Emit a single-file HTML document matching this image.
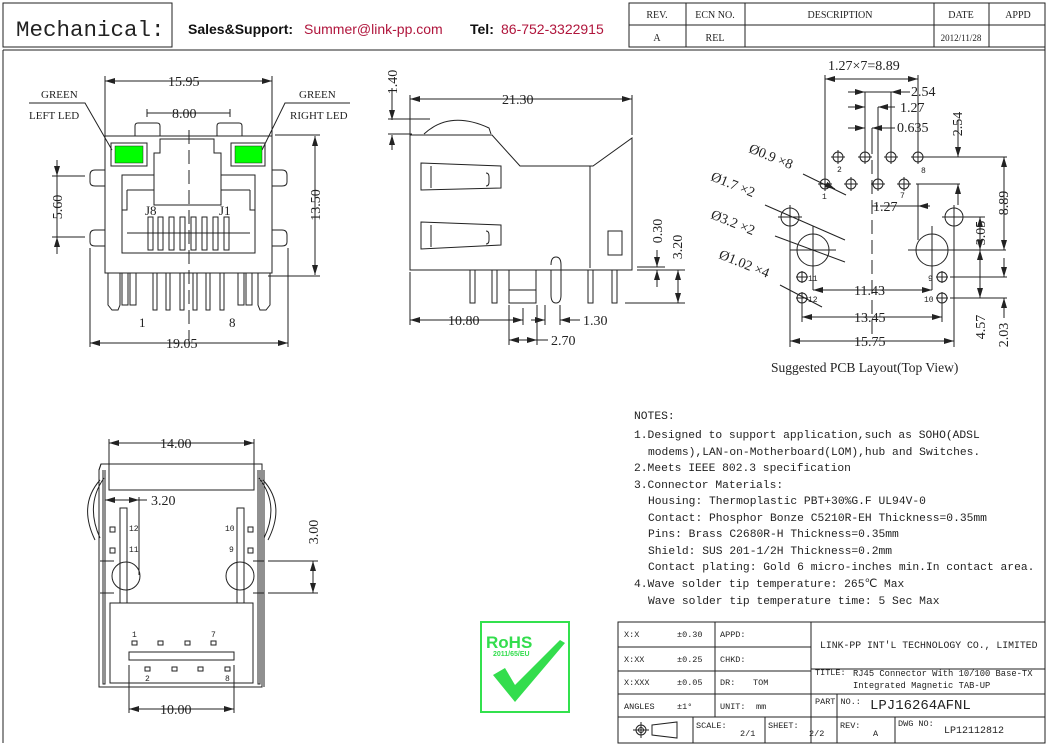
<!DOCTYPE html>
<html><head><meta charset="utf-8"><style>
html,body{margin:0;padding:0;background:#fff}
svg{display:block}
text{font-family:"Liberation Mono","DejaVu Sans Mono",monospace;fill:#222}
.s{font-family:"Liberation Serif",serif}
</style></head><body>
<svg width="1048" height="745" viewBox="0 0 1048 745" xmlns="http://www.w3.org/2000/svg">
<defs>
<marker id="a" viewBox="0 0 10 6" refX="10" refY="3" markerWidth="10" markerHeight="6" orient="auto-start-reverse" markerUnits="userSpaceOnUse"><path d="M0,0L10,3L0,6z" fill="#222"/></marker>
</defs>
<g fill="none" stroke="#222" stroke-width="1">
<line x1="3" y1="50" x2="3" y2="743"/>
<line x1="3" y1="50" x2="1045" y2="50"/>
<line x1="1045" y1="3" x2="1045" y2="743"/>
<rect x="3" y="3" width="169" height="44"/>
<rect x="629" y="3" width="416" height="44"/>
<line x1="629" y1="25" x2="1045" y2="25"/>
<line x1="686" y1="3" x2="686" y2="47"/><line x1="745" y1="3" x2="745" y2="47"/>
<line x1="934" y1="3" x2="934" y2="47"/><line x1="989" y1="3" x2="989" y2="47"/>

<line x1="105" y1="81" x2="272" y2="81" marker-start="url(#a)" marker-end="url(#a)"/>
<line x1="105" y1="76" x2="105" y2="136"/><line x1="272" y1="76" x2="272" y2="136"/>
<line x1="147" y1="113" x2="230" y2="113"/>
<line x1="147" y1="109" x2="147" y2="117"/><line x1="230" y1="109" x2="230" y2="117"/>
<polyline points="29,103 85,103 112,150"/>
<polyline points="350,103 285,103 262,150"/>
<rect x="105" y="136" width="167" height="137"/>
<path d="M135,136V126q0,-3 3,-3h19q3,0 3,3V136M217,136V126q0,-3 3,-3h19q3,0 3,3V136"/>
<rect x="111" y="143" width="36" height="23"/><rect x="231" y="143" width="34" height="23"/>
<path d="M160,139H214V153H221V175H255V253H122V175H154V153H160Z"/>
<path d="M154,175V205H221V175M127,190V210H122M250,190V210H255M127,233H250"/>
<path d="M127,190H154M221,190H250"/>
<g>
<rect x="148" y="217" width="5" height="33"/><rect x="158" y="217" width="5" height="33"/><rect x="169" y="217" width="5" height="33"/><rect x="180" y="217" width="5" height="33"/><rect x="191" y="217" width="5" height="33"/><rect x="202" y="217" width="5" height="33"/><rect x="213" y="217" width="5" height="33"/><rect x="224" y="217" width="5" height="33"/>
</g>
<path d="M105,170H95q-5,0 -5,5v7q0,4 5,4H105M105,230H95q-5,0 -5,5v7q0,4 5,4H105M272,170H282q5,0 5,5v7q0,4 -5,4H272M272,230H282q5,0 5,5v7q0,4 -5,4H272"/>
<path d="M108,273V305l4,5h6l2,-5V273M122,273V305h6V273M153,273V310h4V273M166,273V310h4V273M180,273V310h4V273M193,273V310h4V273M206,273V310h4V273M220,273V310h4V273M246,273V305h6V273M258,273V305l2,5h6l4,-5V273M130,273V305h6V273M238,273V305h6V273"/>
<line x1="189" y1="130" x2="189" y2="340" stroke-dasharray="14,6"/>
<line x1="57" y1="160" x2="57" y2="254"/>
<line x1="57" y1="160" x2="57" y2="176" marker-end="url(#a)"/><line x1="57" y1="254" x2="57" y2="237" marker-end="url(#a)"/>
<line x1="52" y1="176" x2="85" y2="176"/><line x1="52" y1="237" x2="85" y2="237"/>
<line x1="315" y1="136" x2="315" y2="275" marker-start="url(#a)" marker-end="url(#a)"/>
<line x1="275" y1="135" x2="320" y2="135"/><line x1="268" y1="276" x2="320" y2="276"/>
<line x1="90" y1="343" x2="288" y2="343" marker-start="url(#a)" marker-end="url(#a)"/>
<line x1="90" y1="248" x2="90" y2="347"/><line x1="288" y1="248" x2="288" y2="347"/>

<line x1="410" y1="99" x2="632" y2="99" marker-start="url(#a)" marker-end="url(#a)"/>
<line x1="410" y1="95" x2="410" y2="135"/><line x1="632" y1="95" x2="632" y2="135"/>
<path d="M410,135H492L520,166H593L632,138V270H410Z"/>
<line x1="590" y1="166" x2="590" y2="268"/>
<path d="M424,134Q450,110 489,128L491,134"/>
<path d="M421,163L501,166V188L421,190ZM431,166V188M486,173q3,0 3,4v5q0,4 -3,4"/>
<path d="M421,222L501,225V245L421,249ZM431,225V247M486,231q3,0 3,4v5q0,4 -3,4"/>
<rect x="608" y="231" width="14" height="24"/>
<path d="M470,270V303h5V270M492,270V303h5V270M588,270V303h5V270M612,270V303h5V270M509,270V303h27V270M509,290H536M551,270V295q0,8 5,8q5,0 5,-8V265q0,-8 -5,-8q-5,0 -5,8"/>
<line x1="392" y1="88" x2="392" y2="116" /><line x1="392" y1="116" x2="392" y2="120" marker-end="url(#a)"/>
<line x1="392" y1="150" x2="392" y2="135" marker-end="url(#a)"/>
<line x1="388" y1="119" x2="430" y2="119"/><line x1="388" y1="134" x2="412" y2="134"/>
<line x1="410" y1="272" x2="410" y2="325"/>
<line x1="410" y1="320" x2="523" y2="320" marker-start="url(#a)" marker-end="url(#a)"/>
<line x1="523" y1="308" x2="523" y2="325"/>
<line x1="531" y1="320" x2="545" y2="320" marker-end="url(#a)"/>
<line x1="580" y1="320" x2="560" y2="320" marker-end="url(#a)"/>
<line x1="545" y1="305" x2="545" y2="325"/><line x1="560" y1="305" x2="560" y2="325"/>
<line x1="509" y1="305" x2="509" y2="345"/><line x1="537" y1="305" x2="537" y2="345"/>
<line x1="509" y1="340" x2="537" y2="340" marker-start="url(#a)" marker-end="url(#a)"/>
<line x1="537" y1="340" x2="548" y2="340"/>
<line x1="637" y1="267" x2="665" y2="267"/><line x1="637" y1="270" x2="685" y2="270"/>
<line x1="625" y1="303" x2="685" y2="303"/>
<line x1="657" y1="250" x2="657" y2="267" marker-end="url(#a)"/><line x1="657" y1="287" x2="657" y2="270" marker-end="url(#a)"/>
<line x1="678" y1="270" x2="678" y2="303" marker-start="url(#a)" marker-end="url(#a)"/>

<line x1="825" y1="79" x2="918" y2="79" marker-start="url(#a)" marker-end="url(#a)"/>
<line x1="825" y1="75" x2="825" y2="180"/><line x1="918" y1="75" x2="918" y2="153"/>
<line x1="848" y1="92" x2="865" y2="92" marker-end="url(#a)"/><line x1="910" y1="92" x2="891" y2="92" marker-end="url(#a)"/>
<line x1="865" y1="92" x2="891" y2="92"/>
<line x1="865" y1="92" x2="865" y2="153"/><line x1="891" y1="92" x2="891" y2="153"/>
<line x1="848" y1="107" x2="865" y2="107" marker-end="url(#a)"/><line x1="895" y1="107" x2="878" y2="107" marker-end="url(#a)"/>
<line x1="878" y1="107" x2="878" y2="180"/>
<line x1="848" y1="128" x2="865" y2="128" marker-end="url(#a)"/><line x1="895" y1="128" x2="872" y2="128" marker-end="url(#a)"/>
<line x1="872" y1="128" x2="872" y2="140"/>
<line x1="872" y1="140" x2="872" y2="340" stroke-dasharray="14,6"/>
<g>
<circle cx="838" cy="157" r="5"/><circle cx="865" cy="157" r="5"/><circle cx="891" cy="157" r="5"/><circle cx="918" cy="157" r="5"/>
<circle cx="825" cy="184" r="5"/><circle cx="851" cy="184" r="5"/><circle cx="878" cy="184" r="5"/><circle cx="904" cy="184" r="5"/>
<path d="M831,157h14M838,150v14M858,157h14M865,150v14M884,157h14M891,150v14M911,157h14M918,150v14M818,184h14M825,177v14M844,184h14M851,177v14M871,184h14M878,177v14M897,184h14M904,177v14"/>
<circle cx="790" cy="217" r="9"/><circle cx="954" cy="217" r="9"/>
<path d="M778,217h24M790,205v24M942,217h24M954,205v24"/>
<circle cx="813" cy="250" r="16"/><circle cx="932" cy="250" r="16"/>
<path d="M790,250h46M813,226v64M908,250h98M932,226v64"/>
<circle cx="802" cy="277" r="5"/><circle cx="802" cy="298" r="5"/><circle cx="942" cy="277" r="5"/><circle cx="942" cy="298" r="5"/>
<path d="M796,277h12M802,271v12M796,298h12M802,292v12M936,277h12M942,271v12M936,298h12M942,292v12"/>
</g>
<line x1="790" y1="226" x2="790" y2="347"/><line x1="954" y1="226" x2="954" y2="347"/>
<line x1="802" y1="304" x2="802" y2="322"/><line x1="942" y1="304" x2="942" y2="322"/>
<line x1="813" y1="290" x2="932" y2="290" marker-start="url(#a)" marker-end="url(#a)"/>
<line x1="802" y1="317" x2="942" y2="317" marker-start="url(#a)" marker-end="url(#a)"/>
<line x1="790" y1="341" x2="954" y2="341" marker-start="url(#a)" marker-end="url(#a)"/>
<line x1="922" y1="157" x2="1007" y2="157"/><line x1="916" y1="184" x2="960" y2="184"/>
<line x1="950" y1="277" x2="1007" y2="277"/><line x1="950" y1="298" x2="1007" y2="298"/>
<line x1="1004" y1="157" x2="1004" y2="250" marker-start="url(#a)" marker-end="url(#a)"/>
<line x1="958" y1="120" x2="958" y2="157" marker-end="url(#a)"/>
<line x1="958" y1="205" x2="958" y2="184" marker-end="url(#a)"/>
<line x1="980" y1="217" x2="980" y2="250" marker-start="url(#a)" marker-end="url(#a)"/>
<line x1="980" y1="250" x2="980" y2="298" marker-start="url(#a)" marker-end="url(#a)"/>
<line x1="1004" y1="258" x2="1004" y2="277" marker-end="url(#a)"/><line x1="1004" y1="318" x2="1004" y2="298" marker-end="url(#a)"/>
<line x1="960" y1="217" x2="985" y2="217"/>
<line x1="872" y1="206" x2="878" y2="206"/>
<line x1="880" y1="206" x2="918" y2="206" /><line x1="930" y1="206" x2="918" y2="206" marker-end="url(#a)"/>
<line x1="918" y1="184" x2="918" y2="240"/>
<line x1="803" y1="174" x2="846" y2="195" /><line x1="835" y1="189" x2="825" y2="184" marker-start="url(#a)"/>
<line x1="765" y1="205" x2="845" y2="240"/>
<line x1="775" y1="236" x2="845" y2="262"/>
<line x1="780" y1="285" x2="822" y2="307"/>

<line x1="109" y1="443" x2="254" y2="443" marker-start="url(#a)" marker-end="url(#a)"/>
<line x1="109" y1="439" x2="109" y2="490"/><line x1="254" y1="439" x2="254" y2="490"/>
<path d="M101,464H262V687H99V470Z"/>
<path d="M101,464L99,470M264,470V687"/>
<rect x="109" y="464" width="145" height="26"/>
<path d="M100,480Q78,505 95,540M104,478Q85,505 100,538M263,480Q286,505 268,540M259,478Q280,505 264,538"/>
<path d="M103,470V684h2V470M258,470V684h2V470"/>
<rect x="120" y="508" width="7" height="95"/><rect x="237" y="508" width="7" height="95"/>
<circle cx="126" cy="576" r="14"/><circle cx="240" cy="576" r="14"/>
<path d="M100,561H114M100,593H114M253,561H264M253,593H264"/>
<rect x="110" y="603" width="143" height="80"/>
<rect x="129" y="652" width="105" height="8"/>
<g>
<rect x="110" y="527" width="5" height="5"/><rect x="110" y="548" width="5" height="5"/>
<rect x="248" y="527" width="5" height="5"/><rect x="248" y="548" width="5" height="5"/>
<rect x="132" y="641" width="5" height="4"/><rect x="158" y="641" width="5" height="4"/><rect x="185" y="641" width="5" height="4"/><rect x="211" y="641" width="5" height="4"/>
<rect x="145" y="667" width="5" height="4"/><rect x="172" y="667" width="5" height="4"/><rect x="198" y="667" width="5" height="4"/><rect x="225" y="667" width="5" height="4"/>
</g>
<line x1="105" y1="500" x2="139" y2="500" marker-start="url(#a)" marker-end="url(#a)"/>
<line x1="139" y1="500" x2="147" y2="500"/>
<line x1="139" y1="497" x2="139" y2="575"/>
<line x1="129" y1="665" x2="129" y2="713"/><line x1="234" y1="665" x2="234" y2="713"/>
<line x1="129" y1="709" x2="234" y2="709" marker-start="url(#a)" marker-end="url(#a)"/>
<line x1="268" y1="561" x2="318" y2="561"/><line x1="268" y1="593" x2="318" y2="593"/>
<line x1="313" y1="561" x2="313" y2="593" marker-start="url(#a)" marker-end="url(#a)"/>

<rect x="618" y="622" width="427" height="121"/>
<path d="M618,647H811M618,671H811M618,694H1045M618,717H1045M811,669H1045"/>
<path d="M715,622V717M811,622V743M693,717V743M765,717V743M837,694V743M895,717V743"/>
<circle cx="641" cy="730" r="5"/><circle cx="641" cy="730" r="2.5"/><path d="M633,730h16M641,722v16M652,725L677,722V738L652,735Z"/>
</g>

<rect x="115" y="146" width="28" height="17" fill="#00ff00" stroke="#222" stroke-width="0.5"/>
<rect x="235" y="146" width="27" height="17" fill="#00ff00" stroke="#222" stroke-width="0.5"/>
<rect x="481" y="622" width="88" height="90" fill="none" stroke="#33e14d" stroke-width="2"/>
<text x="486" y="648" style="font-family:'Liberation Sans',sans-serif;font-weight:bold;font-size:17px;fill:#33dd4d">RoHS</text>
<text x="493" y="656" style="font-family:'Liberation Sans',sans-serif;font-weight:bold;font-size:7px;fill:#33dd4d">2011/65/EU</text>
<path d="M493,675L505,668L515,685L560,640L565,643L515,702Z" fill="#33dd4d"/>

<g font-size="12">
<text x="16" y="36" style="font-family:'Liberation Mono',monospace;font-size:22.5px;fill:#222">Mechanical:</text>
<text x="188" y="34" style="font-family:'Liberation Sans',sans-serif;font-size:14px;font-weight:bold;fill:#111">Sales&amp;Support:</text>
<text x="304" y="34" style="font-family:'Liberation Sans',sans-serif;font-size:14px;fill:#b0153c">Summer@link-pp.com</text>
<text x="470" y="34" style="font-family:'Liberation Sans',sans-serif;font-size:14px;font-weight:bold;fill:#111">Tel:</text>
<text x="501" y="34" style="font-family:'Liberation Sans',sans-serif;font-size:14px;fill:#b0153c">86-752-3322915</text>
<g class="s" font-size="10" text-anchor="middle" style="font-family:'Liberation Serif',serif">
<text x="657" y="18" class="s">REV.</text><text x="715" y="18" class="s">ECN NO.</text><text x="840" y="18" class="s">DESCRIPTION</text><text x="961" y="18" class="s">DATE</text><text x="1018" y="18" class="s">APPD</text>
<text x="657" y="41" class="s">A</text><text x="715" y="41" class="s">REL</text><text x="961" y="41" class="s" font-size="9">2012/11/28</text>
</g>
<g class="s" style="font-family:'Liberation Serif',serif" font-size="14">
<text x="168" y="86" class="s">15.95</text>
<text x="172" y="118" class="s">8.00</text>
<text x="41" y="98" font-size="11" class="s">GREEN</text><text x="29" y="119" font-size="11" class="s">LEFT LED</text>
<text x="299" y="98" font-size="11" class="s">GREEN</text><text x="290" y="119" font-size="11" class="s">RIGHT LED</text>
<text x="145" y="215" font-size="13" class="s">J8</text><text x="219" y="215" font-size="13" class="s">J1</text>
<text x="139" y="327" font-size="13" class="s">1</text><text x="229" y="327" font-size="13" class="s">8</text>
<text x="166" y="348" class="s">19.05</text>
<text transform="translate(62,207) rotate(-90)" text-anchor="middle" class="s">5.60</text>
<text transform="translate(320,205) rotate(-90)" text-anchor="middle" class="s">13.50</text>
<text x="502" y="104" class="s">21.30</text>
<text transform="translate(397,82) rotate(-90)" text-anchor="middle" class="s">1.40</text>
<text x="448" y="325" class="s">10.80</text>
<text x="583" y="325" class="s">1.30</text>
<text x="551" y="345" class="s">2.70</text>
<text transform="translate(662,231) rotate(-90)" text-anchor="middle" class="s">0.30</text>
<text transform="translate(682,247) rotate(-90)" text-anchor="middle" class="s">3.20</text>
<text x="828" y="70" class="s">1.27×7=8.89</text>
<text x="911" y="96" class="s">2.54</text>
<text x="900" y="112" class="s">1.27</text>
<text x="897" y="132" class="s">0.635</text>
<text x="873" y="211" class="s">1.27</text>
<text x="854" y="295" class="s">11.43</text>
<text x="854" y="322" class="s">13.45</text>
<text x="854" y="346" class="s">15.75</text>
<text transform="translate(962,124) rotate(-90)" text-anchor="middle" class="s">2.54</text>
<text transform="translate(1008,203) rotate(-90)" text-anchor="middle" class="s">8.89</text>
<text transform="translate(985,233) rotate(-90)" text-anchor="middle" class="s">3.05</text>
<text transform="translate(985,327) rotate(-90)" text-anchor="middle" class="s">4.57</text>
<text transform="translate(1008,335) rotate(-90)" text-anchor="middle" class="s">2.03</text>
<text transform="translate(748,152) rotate(22)" class="s">Ø0.9 ×8</text>
<text transform="translate(710,180) rotate(22)" class="s">Ø1.7 ×2</text>
<text transform="translate(710,218) rotate(22)" class="s">Ø3.2 ×2</text>
<text transform="translate(718,258) rotate(22)" class="s">Ø1.02 ×4</text>
<text x="771" y="372" font-size="13.5" class="s">Suggested PCB Layout(Top View)</text>
<text x="160" y="448" class="s">14.00</text>
<text x="151" y="505" class="s">3.20</text>
<text x="160" y="714" class="s">10.00</text>
<text transform="translate(318,532) rotate(-90)" text-anchor="middle" class="s">3.00</text>
</g>
<g style="font-family:'Liberation Serif',serif;fill:#555" font-size="8">
<text x="837" y="172">2</text><text x="822" y="199">1</text><text x="921" y="173">8</text><text x="900" y="198">7</text>
<text x="808" y="281">11</text><text x="808" y="302">12</text><text x="928" y="281">9</text><text x="924" y="302">10</text>
<text x="129" y="531">12</text><text x="129" y="552">11</text><text x="225" y="531">10</text><text x="229" y="552">9</text>
<text x="132" y="637">1</text><text x="211" y="637">7</text><text x="145" y="681">2</text><text x="225" y="681">8</text>
</g>
<g font-size="11.3">
<text x="634" y="419">NOTES:</text>
<text x="634" y="438">1.Designed to support application,such as SOHO(ADSL</text>
<text x="648" y="455">modems),LAN-on-Motherboard(LOM),hub and Switches.</text>
<text x="634" y="471">2.Meets IEEE 802.3 specification</text>
<text x="634" y="488">3.Connector Materials:</text>
<text x="648" y="504">Housing: Thermoplastic PBT+30%G.F UL94V-0</text>
<text x="648" y="521">Contact: Phosphor Bonze C5210R-EH Thickness=0.35mm</text>
<text x="648" y="537">Pins: Brass C2680R-H  Thickness=0.35mm</text>
<text x="648" y="554">Shield: SUS 201-1/2H  Thickness=0.2mm</text>
<text x="648" y="570">Contact plating: Gold 6 micro-inches min.In contact area.</text>
<text x="634" y="587">4.Wave solder tip temperature: 265℃ Max</text>
<text x="648" y="604">Wave solder tip temperature time: 5 Sec Max</text>
</g>
<g font-size="8.5">
<text x="624" y="637">X:X</text><text x="677" y="637">±0.30</text><text x="720" y="637">APPD:</text>
<text x="624" y="662">X:XX</text><text x="677" y="662">±0.25</text><text x="720" y="662">CHKD:</text>
<text x="624" y="685">X:XXX</text><text x="677" y="685">±0.05</text><text x="720" y="685">DR:</text><text x="753" y="685">TOM</text>
<text x="624" y="709">ANGLES</text><text x="677" y="709">±1°</text><text x="720" y="709">UNIT:</text><text x="756" y="709">mm</text>
<text x="820" y="648" font-size="9.8">LINK-PP INT'L TECHNOLOGY CO., LIMITED</text>
<text x="815" y="675">TITLE:</text><text x="853" y="676" font-size="8.8">RJ45 Connector With 10/100 Base-TX</text>
<text x="853" y="688" font-size="8.8">Integrated Magnetic TAB-UP</text>
<text x="815" y="704">PART NO.:</text><text x="870" y="709" font-size="14">LPJ16264AFNL</text>
<text x="696" y="728">SCALE:</text><text x="740" y="736">2/1</text>
<text x="768" y="728">SHEET:</text><text x="809" y="736">2/2</text>
<text x="840" y="728">REV:</text><text x="873" y="736">A</text>
<text x="898" y="726">DWG NO:</text><text x="944" y="733" font-size="10">LP12112812</text>
</g>
</g>
</svg>
</body></html>
